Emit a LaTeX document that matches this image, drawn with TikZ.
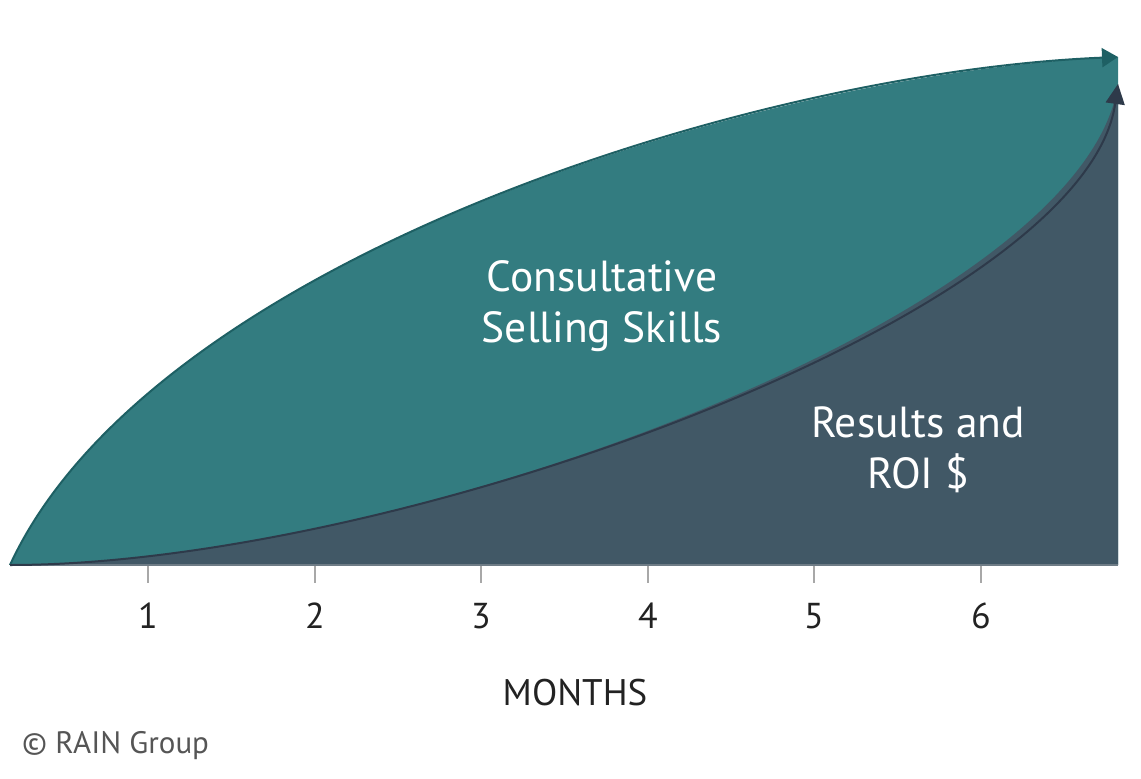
\documentclass[tikz,border=0pt]{standalone}
\usepackage{fontspec}
\setmainfont{PT Sans}
\usetikzlibrary{arrows.meta}
\definecolor{tealfill}{HTML}{337C80}
\definecolor{tealline}{HTML}{1E6064}
\definecolor{slatefill}{HTML}{415866}
\definecolor{slateline}{HTML}{2E3A4A}
\definecolor{axisgray}{HTML}{6E7C86}
\definecolor{tickgray}{HTML}{A8A8A8}
\definecolor{labeltext}{HTML}{222222}
\definecolor{credittext}{HTML}{555555}
\tikzset{
  insidelabel/.style={text=white, font=\fontsize{43.5}{51}\selectfont, align=center, inner sep=0pt},
  ticklabel/.style={text=labeltext, font=\fontsize{36}{40}\selectfont, inner sep=0pt, anchor=base},
  tickmark/.style={draw=tickgray, line width=1.3pt},
}
\begin{document}
\begin{tikzpicture}[x=1pt,y=-1pt]
\useasboundingbox (0,0) rectangle (1141,779);
\coordinate (O) at (10,565);
\coordinate (U) at (1118,57);
\coordinate (L) at (1118,84);
\coordinate (R) at (1118,565);
% teal region under upper curve
\fill[tealfill] (O) .. controls (150,262) and (750,72) .. (U) -- (R) -- cycle;
% dark region under lower curve
\fill[slatefill] (O) .. controls (400,565) and (1085,315) .. (L) -- (R) -- cycle;
% axis
\draw[axisgray, line width=1.5pt] (O) -- (R);
% curves with arrows
\draw[tealline, line width=2pt, -{Triangle[length=16pt,width=19pt]}] (O) .. controls (150,262) and (750,72) .. (U);
\draw[slateline, line width=2pt, -{Triangle[length=20pt,width=19pt]}] (O) .. controls (400,565) and (1085,315) .. (L);
% ticks and labels
\foreach \i/\x in {1/148,2/315,3/481,4/648,5/814,6/981}{
  \coordinate (t\i) at (\x,566);
  \coordinate (b\i) at (\x,583);
  \draw[tickmark] (t\i) -- (b\i);
  \node[ticklabel] (n\i) at (\x,628) {\i};
}
\node[insidelabel] (skills) at (602,306) {Consultative\\Selling Skills};
\node[insidelabel] (results) at (918,450) {Results and\\ROI \$};
\node[text=labeltext, font=\fontsize{37}{40}\selectfont, inner sep=0pt, anchor=base] (months) at (575,705) {MONTHS};
\node[text=credittext, font=\fontsize{31}{34}\selectfont, inner sep=0pt, anchor=base west] (credit) at (22,753) {© RAIN Group};
\end{tikzpicture}
\end{document}
